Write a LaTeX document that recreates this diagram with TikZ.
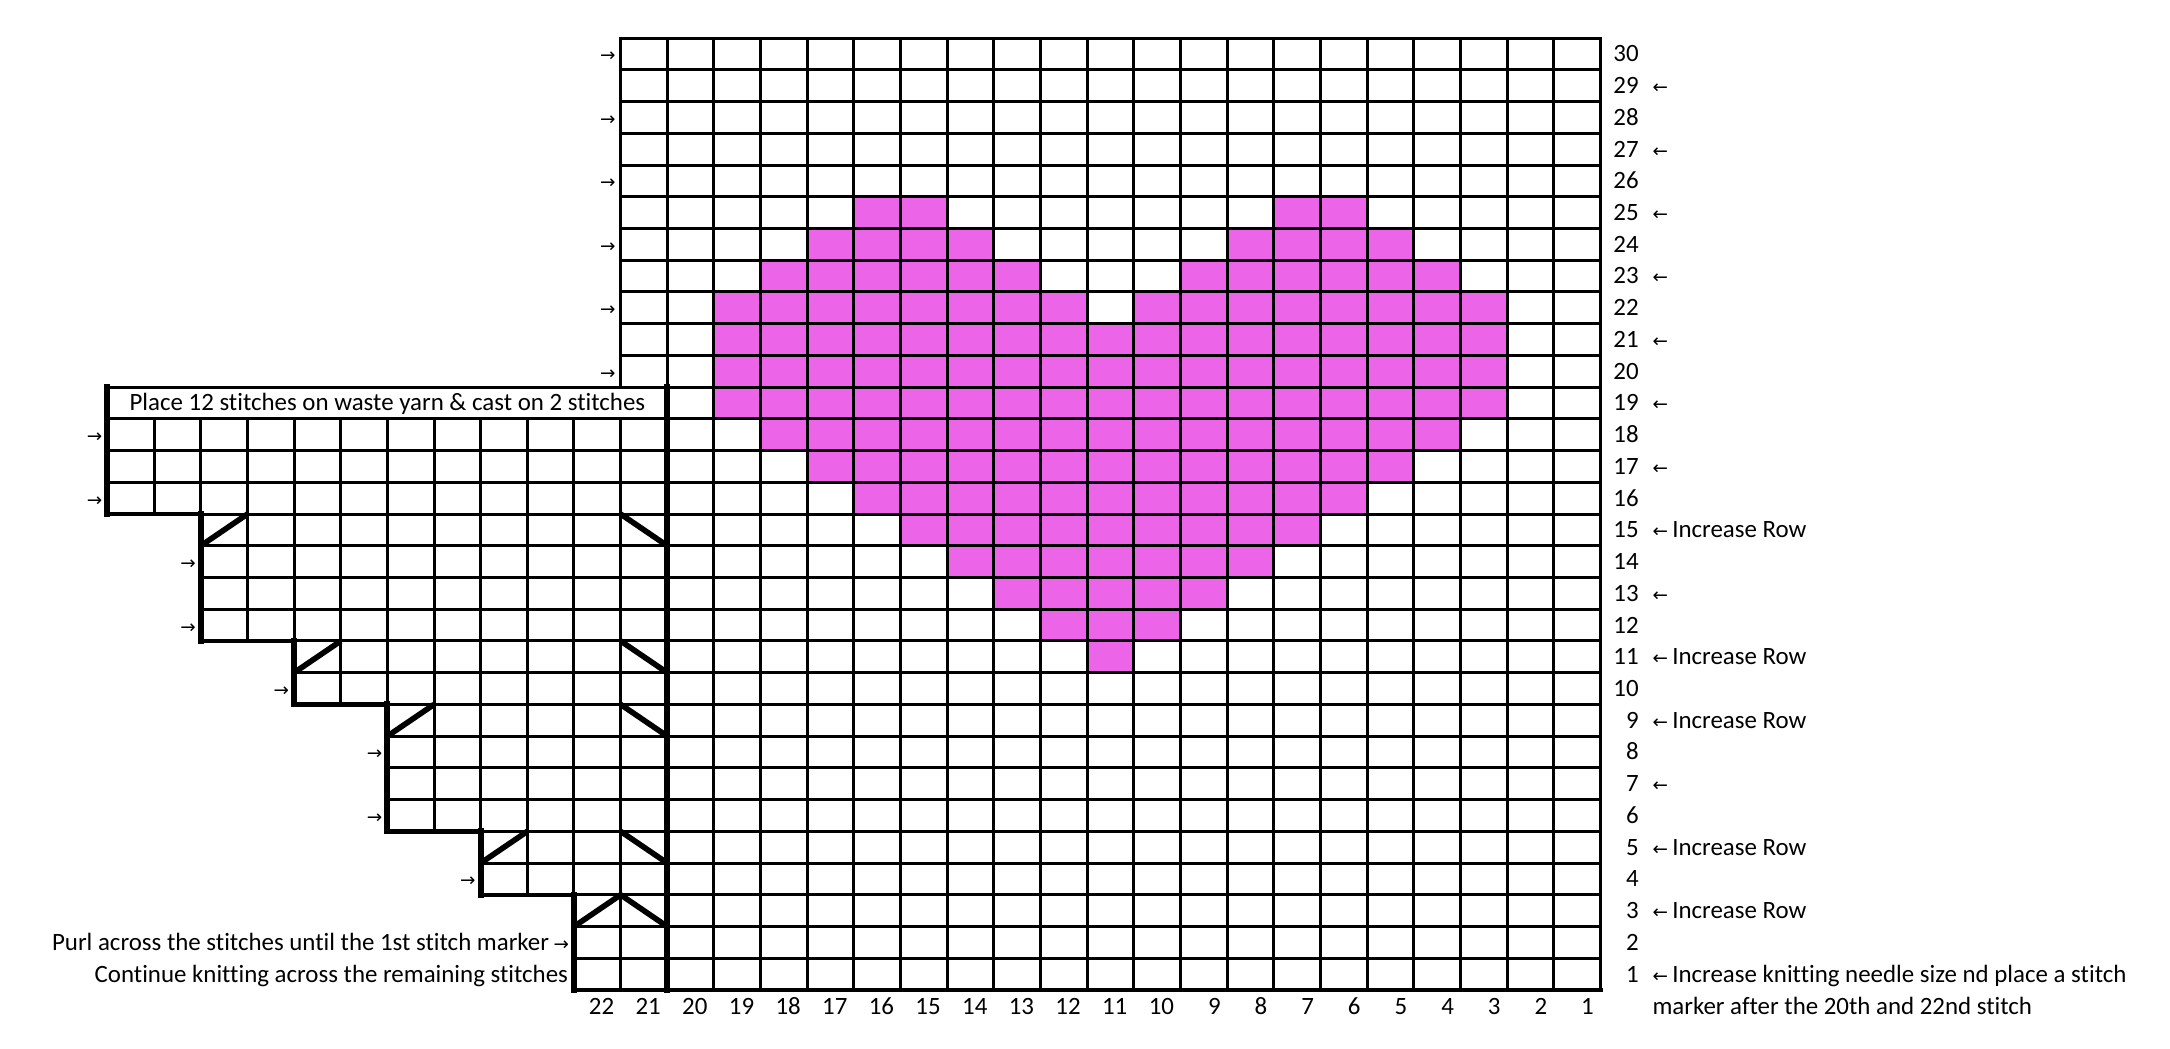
\documentclass[tikz,border=0pt]{standalone}
\usepackage{fontspec}
\setmainfont{Carlito}[Ligatures={NoCommon}]
\newfontfamily\arrowfont{DejaVu Sans}
\newcommand{\myarrow}[1]{{\arrowfont\fontsize{9.2}{10}\selectfont #1}}
\definecolor{heartpink}{RGB}{236,100,232}
\begin{document}
\begin{tikzpicture}[x=23.325pt, y=15.865pt,
  gridline/.style={line width=1.5pt, line cap=rect},
  thickline/.style={line width=3pt, line cap=rect},
  stepline/.style={line width=2.2pt, line cap=rect},
  diag/.style={line width=2.8pt},
  lbl/.style={inner sep=0pt, font=\fontsize{12.45}{14}\selectfont, yshift=-3.95pt}]
\useasboundingbox (-12.304,-1.828) rectangle (34.212,31.201);
\fill[white] (-12.304,-1.828) rectangle (34.212,31.201);

% heart
\foreach \r/\a/\b in {25/6/8, 25/15/17, 24/5/9, 24/14/18, 23/4/10, 23/13/19,
  22/3/11, 22/12/20, 21/3/20, 20/3/20, 19/3/20, 18/4/19, 17/5/18, 16/6/17,
  15/7/16, 14/8/15, 13/9/14, 12/10/13, 11/11/12}
  \fill[heartpink] (\a,\r-1) rectangle (\b,\r);

% vertical grid lines
\foreach \y/\Y/\a in {0/3/0, 3/5/-2, 5/9/-4, 9/11/-6, 11/15/-8, 15/18/-10, 19/30/1}
  \foreach \x in {\a,...,22} \draw[gridline] (\x,\y) -- (\x,\Y);
\foreach \x in {-10,2,3,...,22} \draw[gridline] (\x,18) -- (\x,19);

% horizontal grid lines
\foreach \y/\a in {0/0,1/0,2/0,3/-2,4/-2,5/-4,6/-4,7/-4,8/-4,9/-6,10/-6,11/-8,
  12/-8,13/-8,14/-8,15/-10,16/-10,17/-10,18/-10,19/-10}
  \draw[gridline] (\a,\y) -- (22,\y);
\foreach \y in {20,...,30} \draw[gridline] (1,\y) -- (22,\y);

% stepped outline
\foreach \x/\y/\xx in {-10/15/-8, -8/11/-6, -6/9/-4, -4/5/-2, -2/3/0}
  \draw[stepline] (\x,\y) -- (\xx,\y);
\draw[stepline] (0,0) -- (22,0);
\foreach \x/\y/\Y in {-10/15/19, -8/11/15, -6/9/11, -4/5/9, -2/3/5, 0/0/3}
  \draw[thickline] (\x,\y) -- (\x,\Y);
\draw[thickline] (2,0) -- (2,19);

% increase marks
\foreach \r/\xl in {15/-8, 11/-6, 9/-4, 5/-2, 3/0} {
  \draw[diag] (\xl,\r-1) -- (\xl+1,\r);
  \draw[diag] (1,\r) -- (2,\r-1);
}

% box text
\node[lbl, anchor=base] (place) at (-4,18.5) {Place 12 stitches on waste yarn \& cast on 2 stitches};

% row numbers
\foreach \r in {1,...,30}
  \node[lbl, anchor=base east] (rn\r) at (22.83,\r-0.5) {\r};

% right side arrows and notes
\foreach \r in {29,27,25,23,21,19,17,13,7}
  \node[lbl, anchor=base west] (ra\r) at (23.11,\r-0.5) {\myarrow{←}};
\foreach \r in {15,11,9,5,3}
  \node[lbl, anchor=base west] (ra\r) at (23.11,\r-0.5) {\myarrow{←}\hspace{2.2pt}Increase Row};
\node[lbl, anchor=base west] (ra1) at (23.11,0.5) {\myarrow{←}\hspace{2.2pt}Increase knitting needle size nd place a stitch};
\node[lbl, anchor=base west] (ra1b) at (23.11,-0.53) {marker after the 20th and 22nd stitch};

% left arrows
\foreach \r/\x in {30/1,28/1,26/1,24/1,22/1,20/1,18/-10,16/-10,14/-8,12/-8,10/-6,8/-4,6/-4,4/-2}
  \node[lbl, anchor=base east] (la\r) at (\x-0.1,\r-0.5) {\myarrow{→}};

% left notes
\node[lbl, anchor=base east] (purl) at (-0.1,1.5) {Purl across the stitches until the 1st stitch marker\hspace{2.2pt}\myarrow{→}};
\node[lbl, anchor=base east] (cont) at (-0.12,0.5) {Continue knitting across the remaining stitches};

% column numbers
\foreach \c in {1,...,22}
  \node[lbl, anchor=base east] (cl\c) at ({23-\c-0.13},-0.53) {\c};
\end{tikzpicture}
\end{document}
